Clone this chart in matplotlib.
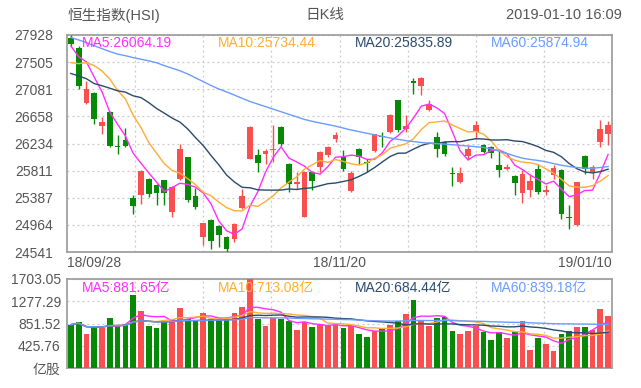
import matplotlib
matplotlib.use('Agg')
import matplotlib.pyplot as plt
import numpy as np
import pandas as pd

# ---------------- data ----------------
dates = ['18/09/28', '18/10/02', '18/10/03', '18/10/04', '18/10/05', '18/10/08', '18/10/09', '18/10/10',
         '18/10/11', '18/10/12', '18/10/15', '18/10/16', '18/10/18', '18/10/19', '18/10/22', '18/10/23',
         '18/10/24', '18/10/25', '18/10/26', '18/10/29', '18/10/30', '18/10/31', '18/11/01', '18/11/02',
         '18/11/05', '18/11/06', '18/11/07', '18/11/08', '18/11/09', '18/11/12', '18/11/13', '18/11/14',
         '18/11/15', '18/11/16', '18/11/19', '18/11/20', '18/11/21', '18/11/22', '18/11/23', '18/11/26',
         '18/11/27', '18/11/28', '18/11/29', '18/11/30', '18/12/03', '18/12/04', '18/12/05', '18/12/06',
         '18/12/07', '18/12/10', '18/12/11', '18/12/12', '18/12/13', '18/12/14', '18/12/17', '18/12/18',
         '18/12/19', '18/12/20', '18/12/21', '18/12/24', '18/12/27', '18/12/28', '18/12/31', '19/01/02',
         '19/01/03', '19/01/04', '19/01/07', '19/01/08', '19/01/09', '19/01/10']

opens = [27880, 27720, 26860, 27030, 26510, 26725, 26200, 26285, 25385, 25426,
         25685, 25580, 25660, 25165, 25685, 26024, 25415, 24770, 25036, 24947,
         24775, 24750, 25228, 26000, 26050, 26075, 26128, 26492, 25919, 25600,
         25090, 25790, 25867, 26050, 26310, 26024, 25488, 26144, 25950, 26113,
         26350, 26414, 26909, 26466, 27205, 27132, 26752, 26336, 26258, 25774,
         25634, 26040, 26414, 26206, 26175, 25900, 25830, 25727, 25460, 25504,
         25832, 25485, 25740, 25816, 25080, 24960, 26040, 25790, 26258, 26390]
highs = [27928, 27760, 27210, 27040, 26650, 26740, 26363, 26476, 25436, 25816,
         25700, 25600, 25670, 25570, 26231, 26030, 25540, 25000, 25060, 24960,
         24790, 24990, 25529, 26500, 26153, 26153, 26519, 26500, 25930, 25790,
         25800, 25800, 26110, 26200, 26414, 26128, 25800, 26160, 26000, 26380,
         26414, 26690, 26920, 26674, 27260, 27270, 26909, 26414, 26270, 25867,
         25867, 26216, 26581, 26220, 26190, 26133, 25919, 25740, 25821, 25763,
         25919, 25580, 25903, 25830, 25270, 25630, 26050, 25903, 26597, 26581]
lows = [27760, 27090, 26850, 26545, 26390, 26180, 26075, 26175, 25140, 25295,
        25400, 25270, 25270, 25087, 25660, 25320, 25207, 24650, 24593, 24620,
        24541, 24700, 25217, 25990, 25790, 25919, 25946, 26200, 25477, 25529,
        25087, 25504, 25790, 26030, 26258, 25800, 25470, 25919, 25790, 26100,
        26180, 26400, 26410, 26414, 27012, 26987, 26740, 26024, 26040, 25571,
        25620, 25972, 26310, 26080, 26008, 25712, 25816, 25426, 25301, 25400,
        25440, 25426, 25685, 25061, 24905, 24940, 25763, 25685, 26180, 26206]
closes = [27789, 27126, 27091, 26624, 26573, 26203, 26173, 26193, 25266, 25801,
          25445, 25462, 25455, 25561, 26153, 25347, 25250, 24994, 24718, 24812,
          24586, 24980, 25416, 26486, 25934, 26121, 26148, 26228, 25602, 25633,
          25793, 25654, 26103, 26184, 26372, 25830, 25780, 26024, 25928, 26376,
          26332, 26682, 26451, 26507, 27182, 27260, 26850, 26156, 26064, 25752,
          25771, 26153, 26524, 26095, 26087, 25814, 25865, 25623, 25753, 25651,
          25479, 25504, 25846, 25130, 25064, 25626, 25836, 25875, 26462, 26521]
# volume in 亿股
volumes = [830, 883, 660, 781, 762, 953, 812, 850, 1393, 1100,
           803, 762, 877, 945, 1150, 940, 908, 1048, 932, 946,
           946, 1048, 1170, 1703.05, 932, 812, 956, 932, 908, 730,
           886, 787, 851, 795, 840, 762, 805, 660, 587, 715,
           760, 820, 905, 1033, 1298, 908, 803, 960, 978, 705,
           650, 700, 800, 680, 533, 680, 565, 680, 900, 350,
           565, 468, 316, 660, 705, 775, 775, 725, 1135, 990]
# closes of the 19 sessions before the first bar (for moving-average warm-up)
prior_closes = [27889, 27973, 28134, 27244, 26975, 26973, 26613, 26423, 26345, 27014,
                27286, 26933, 27085, 27407, 27478, 27954, 27499, 27817, 27716]
# MA60 of the index
ma60_price = [27890, 27850, 27810, 27760, 27715, 27670, 27630, 27605, 27575, 27550,
              27525, 27495, 27450, 27410, 27370, 27320, 27260, 27200, 27140, 27085,
              27040, 26990, 26940, 26890, 26850, 26810, 26770, 26730, 26690, 26650,
              26610, 26580, 26555, 26530, 26505, 26475, 26445, 26420, 26395, 26370,
              26345, 26320, 26300, 26280, 26265, 26250, 26240, 26232, 26225, 26215,
              26205, 26195, 26185, 26172, 26150, 26115, 26080, 26040, 26005, 25985,
              25970, 25950, 25920, 25895, 25875, 25860, 25850, 25848, 25860, 25875]

price_tick_labels = ['24541', '24964', '25387', '25811', '26234', '26658', '27081', '27505', '27928']
vol_tick_labels = ['亿股', '425.76', '851.52', '1277.29', '1703.05']
ma_price_labels = ['MA5:26064.19', 'MA10:25734.44', 'MA20:25835.89', 'MA60:25874.94']
ma_vol_labels = ['MA5:881.65亿', 'MA10:713.08亿', 'MA20:684.44亿', 'MA60:839.18亿']
x_labels = ['18/09/28', '18/11/20', '19/01/10']
title_left = '恒生指数(HSI)'
title_mid = '日K线'
title_right = '2019-01-10 16:09'

# ---------------- style ----------------
plt.rcParams['font.family'] = ['Liberation Sans', 'Noto Sans CJK SC', 'DejaVu Sans']
RED = '#f9504f'
GREEN = '#068a06'
MA_COLORS = ['#ff2eff', '#ffad33', '#2b4a6d', '#6a9cff']
GRID = '#c8c8c8'
SPINE = '#a0a0a0'
TXT = '#555555'

W, H = 641, 388
fig = plt.figure(figsize=(W / 100, H / 100), dpi=100)
L, R = 67, 612
ax = fig.add_axes([L / W, 1 - 252 / H, (R - L) / W, 217 / H])
axv = fig.add_axes([L / W, 1 - 368 / H, (R - L) / W, 89 / H])

n = len(closes)
x = np.arange(n)
o = np.array(opens, float)
c = np.array(closes, float)
hi = np.array(highs, float)
lo = np.array(lows, float)
v = np.array(volumes, float)
colors = [RED if c[i] >= o[i] else GREEN for i in range(n)]

ymin, ymax = float(price_tick_labels[0]), float(price_tick_labels[-1])

# candles
ax.vlines(x, lo, hi, colors=colors, linewidth=1.0, zorder=3)
body_h = np.maximum(np.abs(c - o), 14)
ax.bar(x, body_h, bottom=np.minimum(o, c), width=0.74, color=colors, linewidth=0, zorder=4)

# moving averages
full = pd.Series(list(prior_closes) + list(closes), dtype=float)
ma_lines = []
for w in (5, 10, 20):
    ma_lines.append(full.rolling(w).mean().values[-n:])
ma_lines.append(np.array(ma60_price, float))
for arr, col in zip(ma_lines, MA_COLORS):
    ax.plot(x, arr, color=col, linewidth=1.0, zorder=5)

ax.set_xlim(-0.5, n - 0.5)
ax.set_ylim(ymin, ymax)
yt = np.linspace(ymin, ymax, len(price_tick_labels))
ax.set_yticks(yt)
ax.set_yticklabels(price_tick_labels)

# volume
axv.bar(x, v, width=0.74, color=colors, linewidth=0, zorder=3)
vs = pd.Series(v)
for w, col in zip((5, 10, 20, 60), MA_COLORS):
    axv.plot(x, vs.rolling(w, min_periods=1).mean().values, color=col, linewidth=1.0, zorder=5)
axv.set_xlim(-0.5, n - 0.5)
vmax = float(vol_tick_labels[-1])
axv.set_ylim(0, vmax)
axv.set_yticks(np.linspace(0, vmax, len(vol_tick_labels)))
axv.set_yticklabels(vol_tick_labels)

xt = -0.5 + np.arange(1, 8) * n / 8
for a, pad in ((ax, 10), (axv, 4.5)):
    a.set_xticks(xt)
    a.set_xticklabels([])
    a.tick_params(axis='both', length=0, labelsize=10, colors=TXT, pad=pad)
    a.grid(True, linestyle=(0, (1.5, 2.5)), color=GRID, linewidth=0.9, zorder=0)
    a.set_axisbelow(True)
    for s in a.spines.values():
        s.set_color(SPINE)
        s.set_linewidth(1.3)
    a.set_facecolor('white')

# legends inside panels
for k in range(4):
    ax.text(0.0275 + k * 0.25, 0.962, ma_price_labels[k], transform=ax.transAxes,
            color=MA_COLORS[k], fontsize=10, ha='left', va='center', zorder=6)
    axv.text(0.0275 + k * 0.25, 0.90, ma_vol_labels[k], transform=axv.transAxes,
             color=MA_COLORS[k], fontsize=10, ha='left', va='center', zorder=6)

# date labels
ax.text(0, -0.052, x_labels[0], transform=ax.transAxes, ha='left', va='center', fontsize=10, color=TXT)
ax.text(0.5, -0.052, x_labels[1], transform=ax.transAxes, ha='center', va='center', fontsize=10, color=TXT)
ax.text(1, -0.052, x_labels[2], transform=ax.transAxes, ha='right', va='center', fontsize=10, color=TXT)

# header
fig.text(68 / W, 1 - 15 / H, title_left, ha='left', va='center', fontsize=10.5, color=TXT)
fig.text(325 / W, 1 - 15 / H, title_mid, ha='center', va='center', fontsize=10.5, color=TXT)
fig.text(622 / W, 1 - 15 / H, title_right, ha='right', va='center', fontsize=10.5, color=TXT)

fig.savefig('out.png', dpi=100, facecolor='white')
